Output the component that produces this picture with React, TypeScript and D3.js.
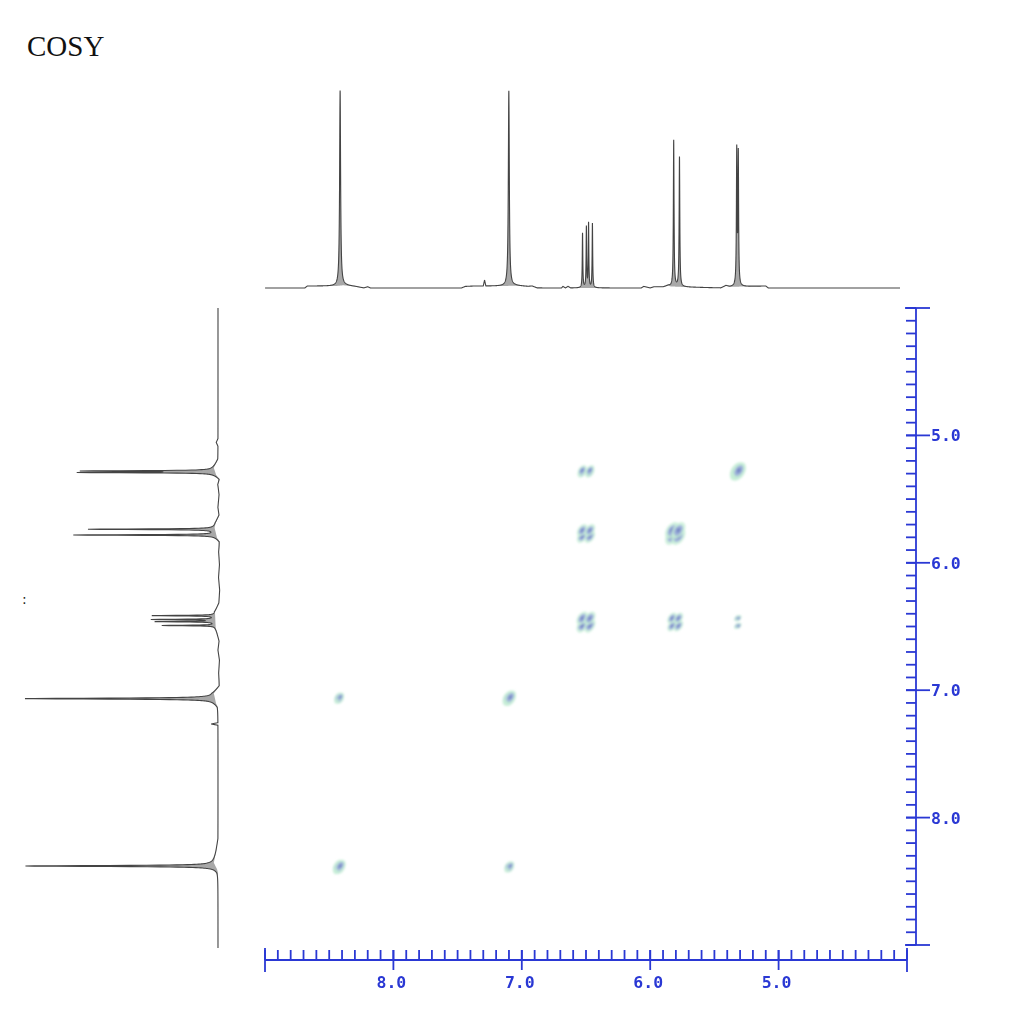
import * as d3 from 'd3'

const TITLE = 'COSY'

// 1D proton lines: position (ppm), relative height, half width
const LINE_PPM = [8.415, 7.101, 6.527, 6.497, 6.48, 6.45, 5.817, 5.772, 5.326, 5.314]
const LINE_HEIGHT = [1.0, 1.0, 0.28, 0.31, 0.33, 0.33, 0.75, 0.665, 0.69, 0.67]
const LINE_HWHM = [0.0045, 0.0045, 0.0025, 0.0025, 0.0025, 0.0025, 0.003, 0.003, 0.003, 0.003]

// baseline drift / noise of the F2 projection (ppm, relative height)
const TOP_BASE_PPM = [4.0, 5.08, 5.1, 5.38, 5.41, 5.45, 5.73, 5.84, 5.86, 5.9, 5.97, 6.0, 6.05, 6.07, 6.62, 6.64, 6.66, 6.68, 6.69, 6.88, 6.92, 6.95, 7.05, 7.15, 7.28, 7.29, 7.3, 7.37, 7.44, 7.47, 8.18, 8.2, 8.23, 8.3, 8.39, 8.45, 8.67, 8.69, 9.0]
const TOP_BASE_H = [0, 0, 0.01, 0.006, 0.012, 0, 0.005, 0.008, 0.012, 0.005, 0.006, 0, 0.008, 0, 0, 0.008, 0, 0.008, 0, 0, 0.01, 0.008, 0.012, 0.01, 0.01, 0.04, 0.01, 0.01, 0.008, 0, 0, 0.006, 0, 0.008, 0.014, 0.01, 0.01, 0, 0]

// baseline of the F1 projection
const LEFT_BASE_PPM = [4.0, 5.06, 5.09, 5.12, 5.22, 5.29, 5.345, 5.38, 5.42, 5.5, 5.6, 5.66, 5.72, 5.76, 5.84, 5.87, 5.95, 6.05, 6.15, 6.25, 6.35, 6.42, 6.55, 6.58, 6.65, 6.72, 6.8, 6.9, 7.0, 7.06, 7.14, 7.17, 7.29, 7.3, 7.31, 8.2, 8.3, 8.39, 8.44, 8.47, 9.1]
const LEFT_BASE_H = [0, 0, 0.009, 0, 0, 0.022, 0.01, -0.009, 0, -0.006, 0, -0.006, 0.012, 0.018, 0.005, -0.009, -0.004, -0.008, -0.003, -0.009, -0.005, 0.016, 0.012, 0.006, -0.006, 0, -0.008, -0.004, -0.008, 0.022, 0.01, 0, 0, 0.035, 0, 0, 0.01, 0.022, 0.005, 0, 0]

// F1 referencing offset seen between the two dimensions
const F1_SHIFT = -0.035

// resolved components of each spin system in the 2D map
const SPIN_CENTER = [8.42, 7.1, 6.5, 5.8, 5.32]
const SPIN_PARTS = [[8.43, 8.415], [7.105, 7.09], [6.53, 6.47], [5.83, 5.78], [5.325, 5.31]]

// COSY cross / diagonal peaks
const CROSS_F2 = [6.5, 5.32, 6.5, 5.8, 6.5, 5.8, 5.32, 8.42, 7.1, 8.42, 7.1]
const CROSS_F1 = [5.32, 5.32, 5.8, 5.8, 6.5, 6.5, 6.5, 7.1, 7.1, 8.42, 8.42]
const CROSS_LEVEL = [0.85, 1.1, 1.0, 1.1, 0.9, 0.9, 0.5, 0.75, 0.9, 0.85, 0.75]

const MAJOR_TICKS = [8.0, 7.0, 6.0, 5.0]
const PPM_RANGE = [9.0, 4.0]

const AXIS_BLUE = '#2a38d4'
const MONO = 'DejaVu Sans Mono, monospace'

type Pt = { ppm: number; b: number; h: number }

function buildTrace(lo: number, hi: number, basePpm: number[], baseH: number[]): Pt[] {
  const base = d3.scaleLinear().domain(basePpm).range(baseH).clamp(true)
  const grid = d3.range(lo, hi, 0.001).concat(LINE_PPM.filter((p) => p > lo && p < hi))
  grid.sort(d3.ascending)
  return grid.map((p) => {
    const b = base(p)
    return { ppm: p, b, h: b + d3.sum(LINE_PPM, (c, i) => LINE_HEIGHT[i] / (1 + ((p - c) / LINE_HWHM[i]) ** 2)) }
  })
}

export default function App() {
  const W = 1024
  const H = 1011

  const f2 = d3.scaleLinear().domain(PPM_RANGE).range([265, 907])
  const f1 = d3.scaleLinear().domain([PPM_RANGE[1], PPM_RANGE[0]]).range([308, 945])
  const topH = d3.scaleLinear().domain([0, 1]).range([288, 93])
  const leftH = d3.scaleLinear().domain([0, 1]).range([218, 28])

  const topTrace = buildTrace(f2.invert(900), f2.invert(265), TOP_BASE_PPM, TOP_BASE_H)
  const leftTrace = buildTrace(f1.invert(308) - F1_SHIFT, f1.invert(948) - F1_SHIFT, LEFT_BASE_PPM, LEFT_BASE_H)

  const topLine = d3.line<Pt>().x((d) => f2(d.ppm)).y((d) => topH(d.h))
  const topArea = d3.area<Pt>().x((d) => f2(d.ppm)).y0((d) => topH(d.b)).y1((d) => topH(d.h))
  const leftLine = d3.line<Pt>().x((d) => leftH(d.h)).y((d) => f1(d.ppm + F1_SHIFT))
  const leftArea = d3.area<Pt>().y((d) => f1(d.ppm + F1_SHIFT)).x0((d) => leftH(d.b)).x1((d) => leftH(d.h))

  const minor = f2.ticks(50)
  const axisY = 960
  const axisX = 916

  // blobs of every cross peak = combination of resolved components
  const blobs: { x: number; y: number; l: number; diag: boolean; key: string }[] = []
  CROSS_F2.forEach((a, i) => {
    const pa = SPIN_PARTS[SPIN_CENTER.indexOf(a)]
    const pb = SPIN_PARTS[SPIN_CENTER.indexOf(CROSS_F1[i])]
    pa.forEach((u, j) =>
      pb.forEach((v, k) =>
        blobs.push({ x: f2(u), y: f1(v + F1_SHIFT), l: CROSS_LEVEL[i], diag: a === CROSS_F1[i], key: `${i}-${j}-${k}` })
      )
    )
  })

  return (
    <div style={{ position: 'absolute', left: 0, top: 0 }}>
      <svg width={W} height={H} style={{ display: 'block', background: '#fff' }}>
        <defs>
          <filter id="soft" x="-50%" y="-50%" width="200%" height="200%">
            <feGaussianBlur stdDeviation="0.9" />
          </filter>
        </defs>

        <text x={27} y={56} fontFamily="Liberation Serif, Times New Roman, serif" fontSize={29} fill="#111">
          {TITLE}
        </text>
        <text x={22} y={604} fontFamily="DejaVu Sans, sans-serif" fontSize={14} fill="#222">
          :
        </text>

        {/* F2 projection */}
        <path d={topArea(topTrace) ?? ''} fill="#a8a8a8" />
        <path d={topLine(topTrace) ?? ''} fill="none" stroke="#444" strokeWidth={1.1} />

        {/* F1 projection */}
        <path d={leftArea(leftTrace) ?? ''} fill="#a8a8a8" />
        <path d={leftLine(leftTrace) ?? ''} fill="none" stroke="#444" strokeWidth={1.1} />

        {/* contour map */}
        <g filter="url(#soft)">
          {blobs.map((b) => {
            const s = b.l * (b.diag ? 1.2 : 1)
            return (
              <g key={b.key} transform={`translate(${b.x},${b.y}) rotate(-55)`}>
                <ellipse rx={7 * s} ry={4.3 * s} fill="#c6eed6" opacity={0.8} />
                <ellipse rx={4.5 * s} ry={2.7 * s} fill="#94a2da" opacity={0.8} />
                <ellipse rx={2 * s} ry={1.3 * s} fill="#6f7fc2" opacity={0.85} />
              </g>
            )
          })}
        </g>

        {/* bottom F2 axis */}
        <g stroke={AXIS_BLUE} strokeWidth={1.8}>
          <line x1={f2(PPM_RANGE[0])} x2={f2(PPM_RANGE[1])} y1={axisY} y2={axisY} />
          {minor.map((t) => (
            <line key={`bx${t}`} x1={f2(t)} x2={f2(t)} y1={axisY - 10} y2={axisY} />
          ))}
          {MAJOR_TICKS.map((t) => (
            <line key={`bm${t}`} x1={f2(t)} x2={f2(t)} y1={axisY - 10} y2={axisY + 10} />
          ))}
          {PPM_RANGE.map((t) => (
            <line key={`be${t}`} x1={f2(t)} x2={f2(t)} y1={axisY - 12} y2={axisY + 12} />
          ))}
        </g>
        {MAJOR_TICKS.map((t) => (
          <text key={`bl${t}`} x={f2(t) - 2} y={axisY + 28} textAnchor="middle" fontFamily={MONO} fontSize={16.5} fontWeight="bold" fill={AXIS_BLUE}>
            {t.toFixed(1)}
          </text>
        ))}

        {/* right F1 axis */}
        <g stroke={AXIS_BLUE} strokeWidth={1.8}>
          <line x1={axisX} x2={axisX} y1={f1(PPM_RANGE[1])} y2={f1(PPM_RANGE[0])} />
          {minor.map((t) => (
            <line key={`rx${t}`} x1={axisX - 10} x2={axisX} y1={f1(t)} y2={f1(t)} />
          ))}
          {MAJOR_TICKS.map((t) => (
            <line key={`rm${t}`} x1={axisX - 10} x2={axisX + 14} y1={f1(t)} y2={f1(t)} />
          ))}
          {PPM_RANGE.map((t) => (
            <line key={`re${t}`} x1={axisX - 11} x2={axisX + 14} y1={f1(t)} y2={f1(t)} />
          ))}
        </g>
        {MAJOR_TICKS.map((t) => (
          <text key={`rl${t}`} x={axisX + 15} y={f1(t)} dy="0.36em" fontFamily={MONO} fontSize={16.5} fontWeight="bold" fill={AXIS_BLUE}>
            {t.toFixed(1)}
          </text>
        ))}
      </svg>
    </div>
  )
}
